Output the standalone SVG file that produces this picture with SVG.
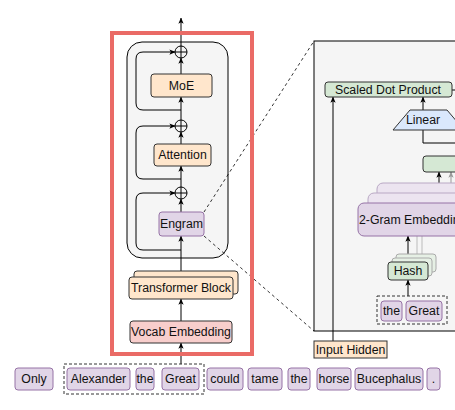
<svg xmlns="http://www.w3.org/2000/svg" width="455" height="410" viewBox="0 0 455 410">
<defs>
<marker id="ah" viewBox="0 0 8 8" refX="7.5" refY="4" markerWidth="6" markerHeight="6" orient="auto" markerUnits="userSpaceOnUse">
<path d="M0,0.5 L8,4 L0,7.5 L2,4 Z" fill="#000"/>
</marker>
<marker id="ahg" viewBox="0 0 8 8" refX="7.5" refY="4" markerWidth="6" markerHeight="6" orient="auto" markerUnits="userSpaceOnUse">
<path d="M0,0.5 L8,4 L0,7.5 L2,4 Z" fill="#999"/>
</marker>
<style>
text{font-family:"Liberation Sans",Arial,sans-serif;font-size:12.3px;fill:#111;text-anchor:middle;dominant-baseline:central}
.tok{fill:#e1d5e7;stroke:#9673a6;stroke-width:1}
.tokb{fill:#ece4f0;stroke:#b9a8c4;stroke-width:1}
.org{fill:#ffe6cc;stroke:#333;stroke-width:1}
.red{fill:#f8cecc;stroke:#333;stroke-width:1}
.grn{fill:#d5e8d4;stroke:#333;stroke-width:1}
.grnb{fill:#e6f0e5;stroke:#aaa;stroke-width:1}
.blu{fill:#dae8fc;stroke:#333;stroke-width:1}
.ln{fill:none;stroke:#000;stroke-width:1}
.arr{fill:none;stroke:#000;stroke-width:1;marker-end:url(#ah)}
.garr{fill:none;stroke:#999;stroke-width:1;marker-end:url(#ahg)}
.gln{fill:none;stroke:#bbb;stroke-width:1}
.dash{fill:none;stroke:#333;stroke-width:1;stroke-dasharray:3,2}
.dot{fill:none;stroke:#000;stroke-width:0.8;stroke-dasharray:3,3}
</style>
</defs>

<g id="grey-block">
<rect x="127" y="42" width="101" height="216" rx="15" fill="#f5f5f5" stroke="#000" stroke-width="1"/>
</g>

<g id="zoom-panel">
<rect x="314" y="41" width="160" height="290" fill="#f5f5f5" stroke="#000" stroke-width="1"/>
</g>

<g id="connectors">
<line class="arr" x1="181" y1="364" x2="181" y2="343"/>
<line class="arr" x1="181" y1="321" x2="181" y2="299"/>
<line class="arr" x1="181" y1="277" x2="181" y2="236"/>
<line class="arr" x1="181" y1="212" x2="181" y2="199"/>
<line class="arr" x1="181" y1="187" x2="181" y2="166"/>
<line class="arr" x1="181" y1="144" x2="181" y2="132"/>
<line class="arr" x1="181" y1="120" x2="181" y2="97"/>
<line class="arr" x1="181" y1="74" x2="181" y2="58"/>
<line class="arr" x1="181" y1="46" x2="181" y2="18"/>
<path class="arr" d="M181,250 H143 Q136,250 136,243 V200 Q136,193 143,193 H175"/>
<path class="arr" d="M181,179 H143 Q136,179 136,172 V133 Q136,126 143,126 H175"/>
<path class="arr" d="M181,110 H143 Q136,110 136,103 V59 Q136,52 143,52 H175"/>
<line class="dot" x1="204" y1="212" x2="314" y2="41"/>
<line class="dot" x1="204" y1="236" x2="314" y2="331"/>
<line class="arr" x1="333" y1="341" x2="333" y2="97"/>
<line class="arr" x1="423" y1="110" x2="423" y2="97"/>
<path class="ln" d="M423,130 V143 H455"/>
<line class="ln" x1="452" y1="90" x2="455" y2="90"/>
<line class="arr" x1="439" y1="203" x2="439" y2="172"/>
<line class="garr" x1="451" y1="183" x2="451" y2="172"/>
<line class="gln" x1="417" y1="236" x2="417" y2="258"/>
<line class="gln" x1="422" y1="236" x2="422" y2="254"/>
<line class="arr" x1="408" y1="262" x2="408" y2="236"/>
<line class="arr" x1="408" y1="296" x2="408" y2="280"/>
</g>

<g id="add-3"><circle cx="181" cy="52" r="6" fill="#f5f5f5" stroke="#000"/><line class="ln" x1="175" y1="52" x2="187" y2="52"/><line class="ln" x1="181" y1="46" x2="181" y2="58"/></g>
<g id="add-2"><circle cx="181" cy="126" r="6" fill="#f5f5f5" stroke="#000"/><line class="ln" x1="175" y1="126" x2="187" y2="126"/><line class="ln" x1="181" y1="120" x2="181" y2="132"/></g>
<g id="add-1"><circle cx="181" cy="193" r="6" fill="#f5f5f5" stroke="#000"/><line class="ln" x1="175" y1="193" x2="187" y2="193"/><line class="ln" x1="181" y1="187" x2="181" y2="199"/></g>

<g id="moe"><rect class="org" x="151" y="74" width="61" height="23" rx="3"/><text x="181.5" y="85.5">MoE</text></g>
<g id="attention"><rect class="org" x="154" y="144" width="57" height="22" rx="3"/><text x="182.5" y="155">Attention</text></g>
<g id="engram"><rect class="tok" x="159" y="212" width="45" height="24" rx="3" stroke="#555"/><text x="181.5" y="224">Engram</text></g>

<g id="transformer-block">
<rect class="org" x="134" y="271" width="104" height="23" rx="3"/>
<rect class="org" x="129" y="277" width="104" height="22" rx="3"/>
<text x="181" y="288">Transformer Block</text>
</g>

<g id="vocab-embedding"><rect class="red" x="130" y="321" width="102" height="22" rx="3"/><text x="181" y="332">Vocab Embedding</text></g>

<g id="highlight"><rect x="112" y="33" width="140" height="321" fill="none" stroke="#ea6b66" stroke-width="4"/></g>

<g id="span-box"><rect class="dash" x="64" y="364" width="140" height="30"/></g>
<g id="tok-only"><rect class="tok" x="15" y="368" width="38" height="22" rx="3"/><text x="34" y="379">Only</text></g>
<g id="tok-alexander"><rect class="tok" x="67" y="368" width="63" height="22" rx="3"/><text x="98.5" y="379">Alexander</text></g>
<g id="tok-the"><rect class="tok" x="136" y="368" width="18" height="22" rx="3"/><text x="145" y="379">the</text></g>
<g id="tok-great"><rect class="tok" x="162" y="368" width="37" height="22" rx="3"/><text x="180.5" y="379">Great</text></g>
<g id="tok-could"><rect class="tok" x="207" y="368" width="36" height="22" rx="3"/><text x="225" y="379">could</text></g>
<g id="tok-tame"><rect class="tok" x="248" y="368" width="34" height="22" rx="3"/><text x="265" y="379">tame</text></g>
<g id="tok-the2"><rect class="tok" x="288" y="368" width="22" height="22" rx="3"/><text x="299" y="379">the</text></g>
<g id="tok-horse"><rect class="tok" x="317" y="368" width="34" height="22" rx="3"/><text x="334" y="379">horse</text></g>
<g id="tok-bucephalus"><rect class="tok" x="355" y="368" width="68" height="22" rx="3"/><text x="389" y="379">Bucephalus</text></g>
<g id="tok-dot"><rect class="tok" x="427" y="368" width="13" height="22" rx="3"/><text x="433.5" y="379">.</text></g>

<g id="scaled-dot-product"><rect class="grn" x="325" y="82" width="127" height="15" rx="3"/><text x="388" y="89.5">Scaled Dot Product</text></g>
<g id="linear"><polygon class="blu" points="410,110 447,110 464,130 393,130"/><text x="423" y="120">Linear</text></g>
<g id="green-box"><rect class="grn" x="423" y="156" width="45" height="16" rx="3"/></g>
<g id="ngram-embedding">
<rect class="tokb" x="377" y="183" width="100" height="40" rx="6"/>
<rect class="tokb" x="368" y="193" width="100" height="40" rx="6"/>
<rect class="tok" x="358" y="203" width="110" height="33" rx="6" stroke="#555"/>
<text x="359" y="219.5" style="text-anchor:start">2-Gram Embedding</text>
</g>
<g id="hash">
<rect class="grnb" x="396" y="254" width="40" height="18" rx="3"/>
<rect class="grnb" x="392" y="258" width="40" height="18" rx="3"/>
<rect class="grn" x="388" y="262" width="40" height="18" rx="3"/>
<text x="408" y="271">Hash</text>
</g>
<g id="ngram-input">
<rect class="dash" x="377" y="296" width="70" height="28"/>
<rect class="tok" x="381" y="301" width="21" height="20" rx="3"/><text x="391.5" y="311">the</text>
<rect class="tok" x="406" y="301" width="36" height="20" rx="3"/><text x="424" y="311">Great</text>
</g>
<g id="input-hidden"><rect class="org" x="314" y="341" width="73" height="17"/><text x="350.5" y="349.5">Input Hidden</text></g>
</svg>
